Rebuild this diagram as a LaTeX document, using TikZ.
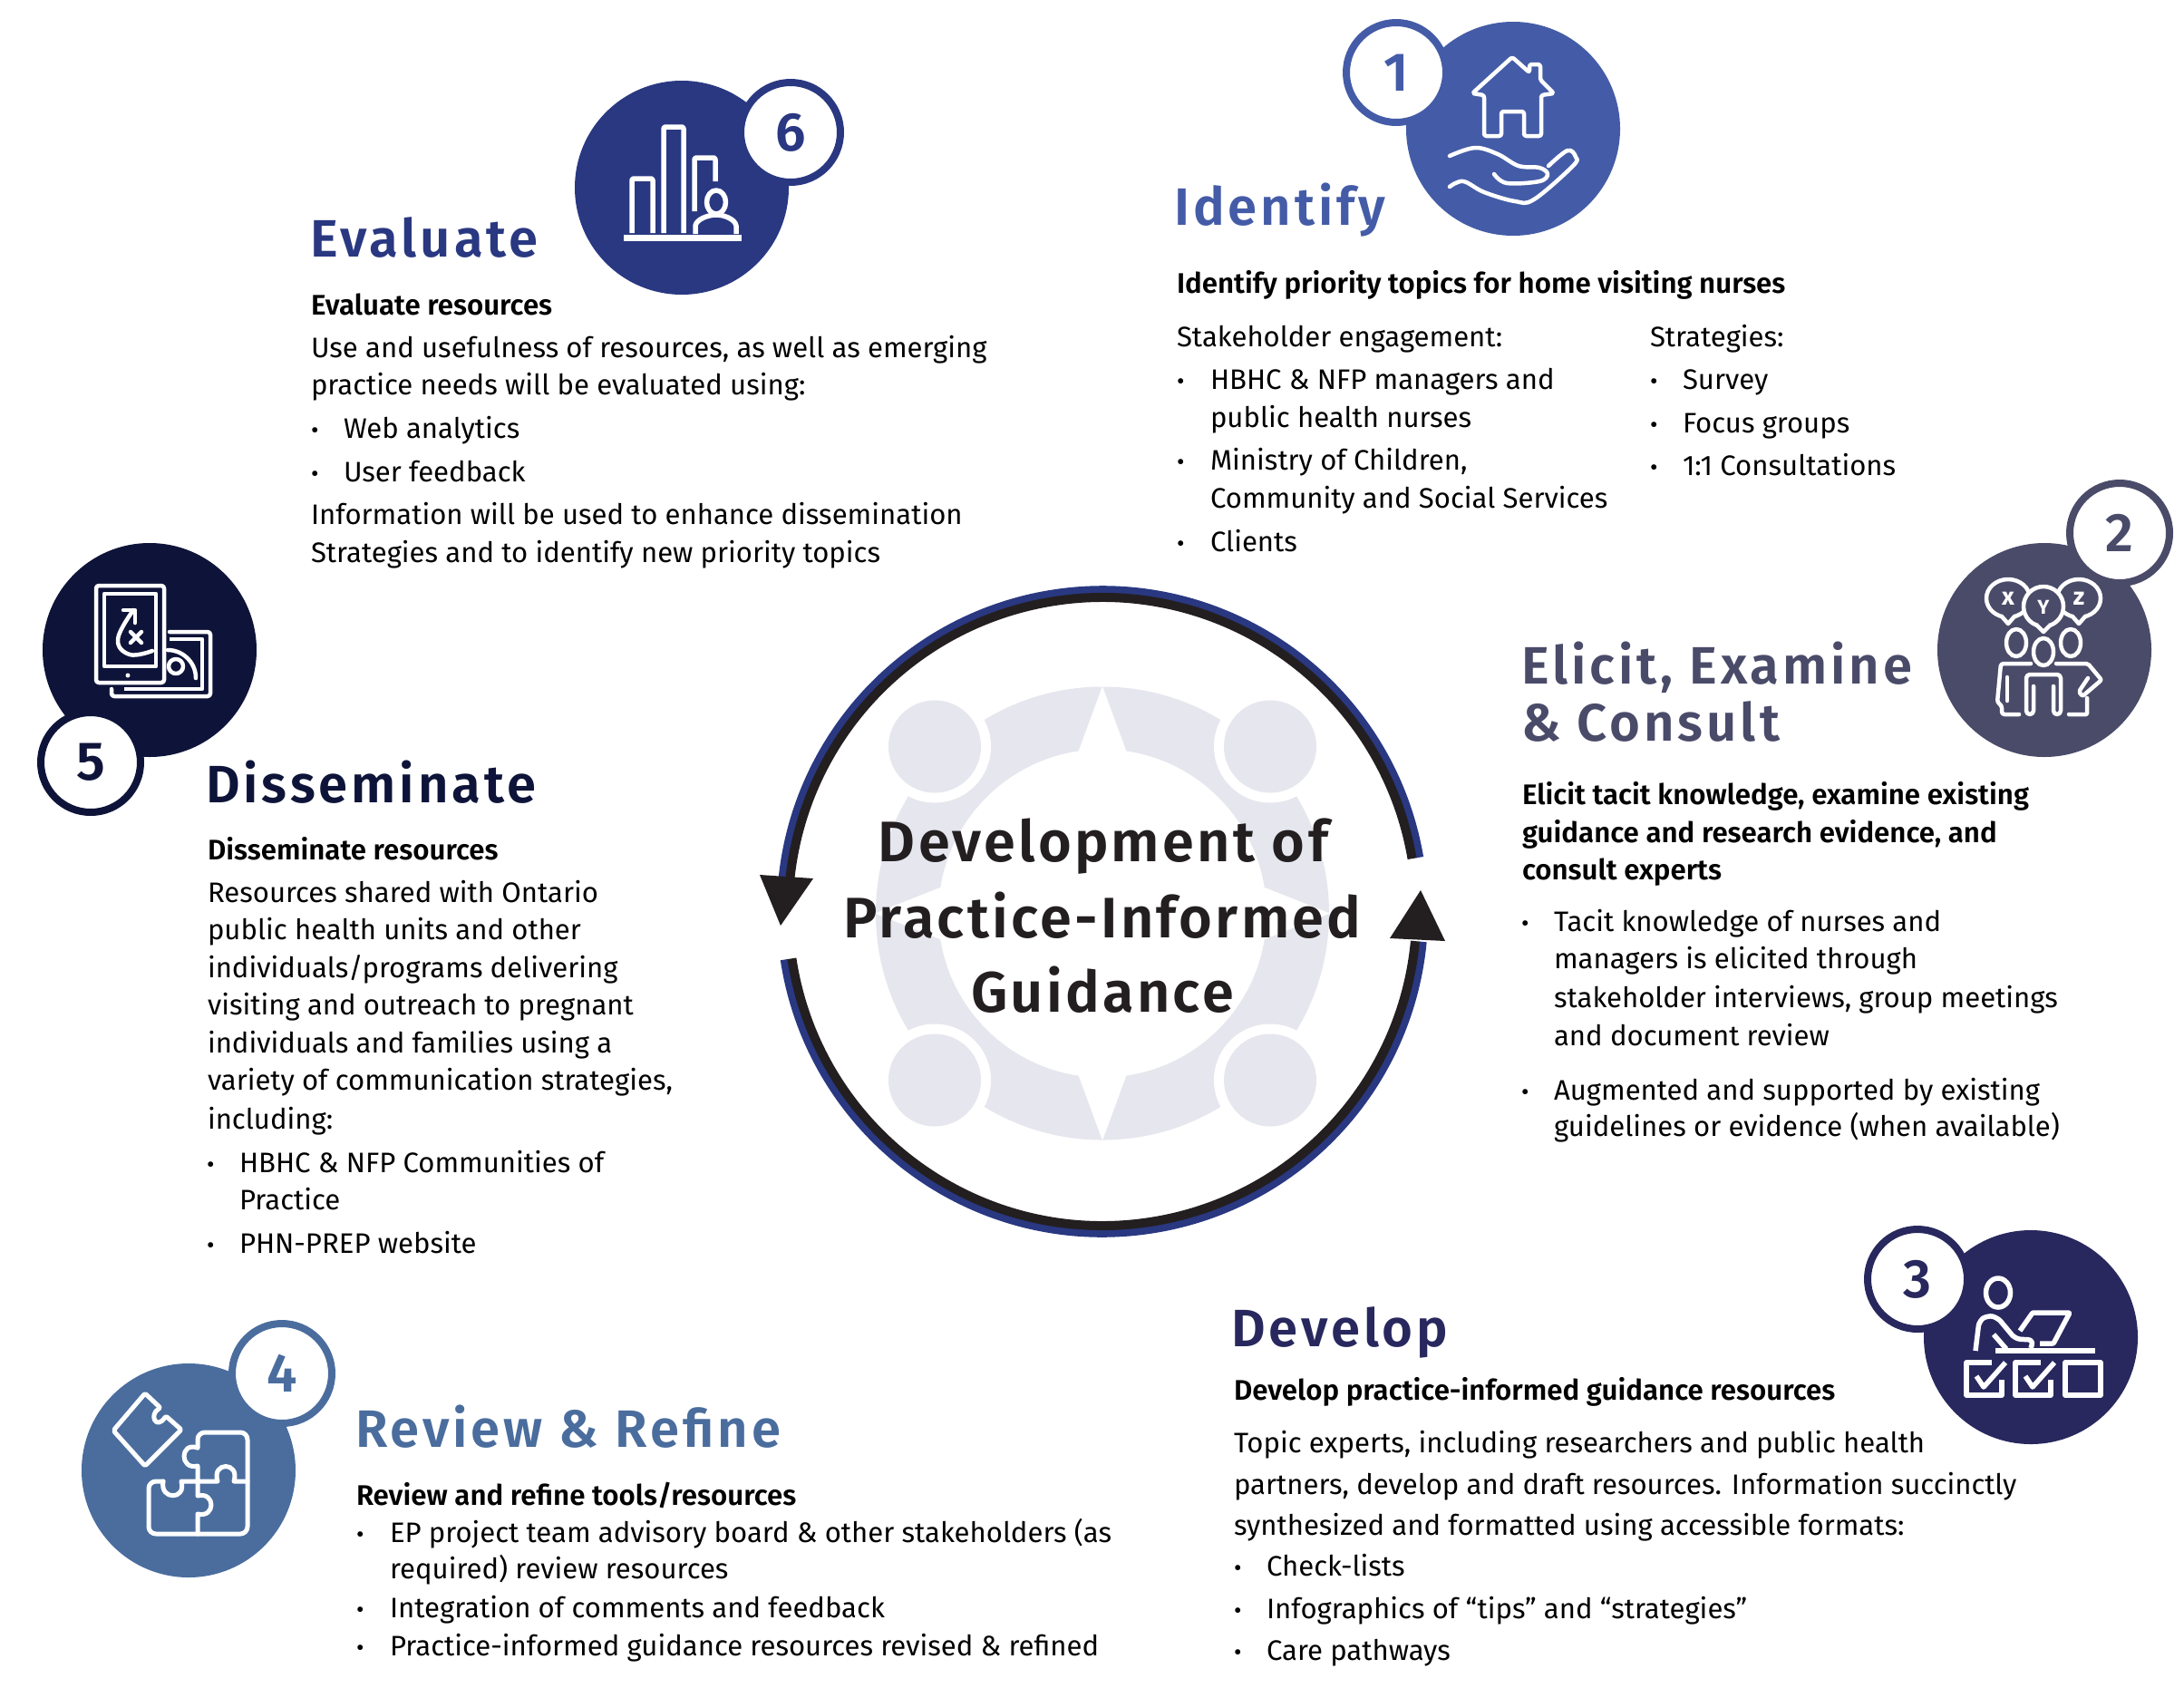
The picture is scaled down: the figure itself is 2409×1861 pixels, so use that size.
\documentclass[tikz,border=0pt]{standalone}
\usepackage{fontspec}
\usetikzlibrary{calc}
\setmainfont{Fira Sans}
\newfontfamily\semi{Fira Sans SemiBold}
\newfontfamily\ttl[LetterSpace=6.8]{Fira Sans SemiBold}
\newfontfamily\ctr[LetterSpace=5.2]{Fira Sans SemiBold}
\definecolor{cA}{HTML}{445CA7}
\definecolor{cB}{HTML}{4A4B69}
\definecolor{cC}{HTML}{28285E}
\definecolor{cD}{HTML}{4A6D9E}
\definecolor{cE}{HTML}{0E1439}
\definecolor{cF}{HTML}{293881}
\definecolor{pale}{HTML}{E6E6EE}
\definecolor{ink}{HTML}{231F20}
\definecolor{ringblue}{HTML}{293881}
\newcounter{tn}
\newcommand\tl[3]{\stepcounter{tn}\node[bodytxt] (t\arabic{tn}) at (#1,-#2) {#3};}
\newcommand\bl[3]{\stepcounter{tn}\node[boldtxt] (t\arabic{tn}) at (#1,-#2) {#3};}
\newcommand\dotb[2]{\stepcounter{tn}\node[bullettxt] (t\arabic{tn}) at (#1,-#2) {•};}
\tikzset{
 bodytxt/.style={anchor=base west,inner sep=0pt,outer sep=0pt,yshift=1pt,text=black,font=\fontsize{31.1}{40}\selectfont},
 boldtxt/.style={anchor=base west,inner sep=0pt,outer sep=0pt,text=black,font=\fontsize{31.25}{40}\selectfont\semi},
 bullettxt/.style={anchor=base west,inner sep=0pt,outer sep=0pt,yshift=1pt,text=black,font=\fontsize{26}{30}\selectfont},
 titletxt/.style={anchor=base west,inner sep=0pt,outer sep=0pt,font=\fontsize{58}{60}\selectfont\ttl},
 centertxt/.style={anchor=base,inner sep=0pt,outer sep=0pt,text=ink,font=\fontsize{63}{70}\selectfont\ctr},
 disc/.style={circle,inner sep=0pt,outer sep=0pt,minimum size=236pt,fill=#1},
 badge/.style={circle,inner sep=0pt,outer sep=0pt,minimum size=110pt,line width=8pt,draw=#1,fill=white,text=#1,font=\fontsize{60}{60}\selectfont\semi},
 icon/.style={draw=white,line width=5.5pt,line join=round,line cap=round},
 iconletter/.style={text=white,inner sep=0pt,font=\fontsize{27}{28}\selectfont\bfseries},
}
\begin{document}
\begin{tikzpicture}[x=1pt,y=1pt]
\useasboundingbox (0,0) rectangle (2409,-1861);
\fill[white] (0,0) rectangle (2409,-1861);

% central logo
\coordinate (ctr) at (1216,-1007.5);
\fill[pale,even odd rule] (ctr) circle (250) (ctr) circle (181);
\foreach \i/\dx/\dy in {a/-185/184,b/185/184,c/-185/-184,d/185/-184}{
  \fill[white] ($(ctr)+(\dx,\dy)$) circle (62);
  \fill[pale] ($(ctr)+(\dx,\dy)$) circle (51);
}
\fill[white] (1216,-757) -- (1188,-833) -- (1244,-833) -- cycle;
\fill[white] (1216,-1258) -- (1188,-1182) -- (1244,-1182) -- cycle;
\fill[white] (965,-1007.5) -- (1037,-979) -- (1037,-1036) -- cycle;
\fill[white] (1467,-1007.5) -- (1395,-979) -- (1395,-1036) -- cycle;

% ring arcs
\coordinate (rc) at (1216,-1005.5);
\draw[ringblue,line width=8.5pt] ([shift={(9.7:355)}]rc) arc[start angle=9.7,end angle=174,radius=355];
\draw[ink,line width=10pt] ([shift={(9.7:346.5)}]rc) arc[start angle=9.7,end angle=174,radius=346.5];
\draw[ringblue,line width=8.5pt] ([shift={(188.6:355)}]rc) arc[start angle=188.6,end angle=354.6,radius=355];
\draw[ink,line width=10pt] ([shift={(188.6:346.5)}]rc) arc[start angle=188.6,end angle=354.6,radius=346.5];
\fill[ink] (838,-965) -- (897,-969) -- (861,-1021) -- cycle;
\fill[ink] (1533,-1035) -- (1594,-1038) -- (1567,-982) -- cycle;

\node[centertxt] (c1) at (1217,-950) {Development of};
\node[centertxt] (c2) at (1216,-1034) {Practice-Informed};
\node[centertxt] (c3) at (1216,-1116) {Guidance};

% discs and badges
\node[disc=cA] (d1) at (1669,-142) {};
\node[badge=cA] (b1) at (1540,-80) {1};
\node[disc=cB] (d2) at (2255,-717) {};
\node[badge=cB] (b2) at (2338,-588) {2};
\node[disc=cC] (d3) at (2240,-1475) {};
\node[badge=cC] (b3) at (2115,-1411) {3};
\node[disc=cD] (d4) at (208,-1622) {};
\node[badge=cD] (b4) at (311,-1515) {4};
\node[disc=cE] (d5) at (165,-717) {};
\node[badge=cE] (b5) at (100,-841) {5};
\node[disc=cF] (d6) at (752,-207) {};
\node[badge=cF] (b6) at (872,-146) {6};

% icon 1 house and hand
\draw[icon,line width=4.5pt,rounded corners=2.5pt] (1668,-63) -- (1624,-103) -- (1637,-105) -- (1637,-150) -- (1656,-150) -- (1656,-123) -- (1681,-123) -- (1681,-150) -- (1700,-150) -- (1700,-105) -- (1714,-103) -- (1699,-88) -- (1699,-71) -- (1687,-71) -- (1687,-80) -- cycle;
\draw[icon,line width=4.5pt] plot[smooth,tension=0.6] coordinates {(1599,-172) (1627,-163) (1652,-170) (1675,-183) (1698,-185) (1707,-192) (1698,-200) (1662,-202) (1648,-192)};
\draw[icon,line width=4.5pt] plot[smooth,tension=0.6] coordinates {(1708,-183) (1729,-166) (1738,-173) (1735,-183) (1692,-220) (1671,-222) (1637,-212) (1614,-200) (1599,-206)};

% icon 6 chart
\fill[white] (688,-259) rectangle (818,-266);
\draw[icon,line cap=butt,rounded corners=2pt] (697,-257) -- (697,-197) -- (720,-197) -- (720,-257);
\draw[icon,line cap=butt,rounded corners=2pt] (732,-257) -- (732,-140) -- (754,-140) -- (754,-257);
\draw[icon,line cap=butt,rounded corners=2pt] (766,-233) -- (766,-174) -- (789,-174) -- (789,-200);
\draw[icon,line cap=butt] (790,-223) ellipse (10.5 and 13);
\draw[icon,line cap=butt] (767,-258) -- (767,-249) .. controls (768,-242) and (781,-237) .. (790,-237) .. controls (799,-237) and (811,-242) .. (812,-249) -- (812,-258);

% icon 2 people
\draw[icon,line width=4.5pt] (2215,-660) ellipse (24 and 21);
\draw[icon,line width=4.5pt] (2293,-660) ellipse (24 and 21);
\fill[cB] (2208,-678) rectangle (2222,-684);
\fill[cB] (2286,-678) rectangle (2300,-684);
\draw[icon,line width=4.5pt] (2208,-680) -- (2215,-688) -- (2222,-680);
\draw[icon,line width=4.5pt] (2286,-680) -- (2293,-688) -- (2300,-680);
\draw[icon,line width=4.5pt,fill=cB] (2254,-669) ellipse (22 and 22);
\fill[cB] (2247,-688) rectangle (2261,-693);
\draw[icon,line width=4.5pt] (2247,-690) -- (2254,-697) -- (2261,-690);
\node[iconletter] (xl) at (2215,-660) {x};
\node[iconletter,font=\fontsize{22}{24}\selectfont\bfseries] (yl) at (2254,-670) {Y};
\node[iconletter] (zl) at (2293,-660) {z};
\draw[icon,line width=4.5pt] (2224,-709) ellipse (11 and 15);
\draw[icon,line width=4.5pt] (2284,-709) ellipse (11 and 15);
\draw[icon,line width=4.5pt] (2254,-719) ellipse (11 and 15);
\draw[icon,line width=4.5pt,rounded corners=3pt] (2240,-732) -- (2207,-732) -- (2203,-775) -- (2208,-778) -- (2208,-788) -- (2227,-788);
\draw[icon,line width=4.5pt] (2214,-747) -- (2214,-773);
\draw[icon,line width=4.5pt,rounded corners=4pt] (2243,-757) -- (2243,-788) -- (2235,-788) -- (2235,-744) -- (2273,-744) -- (2273,-788) -- (2265,-788) -- (2265,-757);
\draw[icon,line width=4.5pt,rounded corners=2pt] (2268,-732) -- (2303,-732) -- (2318,-750) -- (2297,-768) -- (2293,-763) -- (2303,-748);
\draw[icon,line width=4.5pt,rounded corners=1pt] (2302,-770) -- (2302,-788) -- (2282,-788);

% icon 3 desk
\draw[icon,line cap=butt] (2204,-1426) ellipse (13.5 and 16);
\draw[icon,line cap=butt,rounded corners=6pt] (2179,-1490) -- (2183,-1457) -- (2192,-1451) -- (2203,-1453) -- (2223,-1477) -- (2243,-1478) -- (2240,-1487);
\draw[icon,line cap=butt] (2199,-1472) -- (2213,-1488);
\draw[icon,line cap=butt,rounded corners=1pt] (2228,-1468) -- (2242,-1448) -- (2283,-1448) -- (2265,-1482) -- (2250,-1482);
\fill[white] (2201,-1487) rectangle (2311,-1493);
\foreach \s in {0,54}{
  \begin{scope}[xshift=\s pt]
  \draw[icon,line cap=butt] (2208,-1522) -- (2208,-1539) -- (2169,-1539) -- (2169,-1503) -- (2197,-1503);
  \draw[icon,line cap=butt] (2180,-1518) -- (2188,-1530) -- (2212,-1503);
  \end{scope}
}
\draw[icon,line cap=butt] (2278,-1503) rectangle (2317,-1539);

% icon 4 puzzle
\draw[icon,line width=5pt,rounded corners=2pt] (160,-1537) -- (177,-1553) .. controls (164,-1560) and (172,-1578) .. (183,-1562) -- (200,-1577) -- (160,-1617) -- (125,-1578) -- cycle;
\draw[icon,line width=5pt,rounded corners=8pt] (218,-1597) -- (218,-1580) -- (273,-1580) -- (273,-1692) -- (164,-1692) -- (164,-1634) -- (180,-1634);
\draw[icon,line width=5pt] (218,-1597) .. controls (198,-1590) and (198,-1622) .. (218,-1617) -- (218,-1650) .. controls (238,-1645) and (238,-1675) .. (218,-1670) -- (218,-1692);
\draw[icon,line width=5pt] (218,-1634) -- (240,-1634) .. controls (233,-1612) and (265,-1612) .. (258,-1634) -- (273,-1634);
\draw[icon,line width=5pt] (180,-1634) .. controls (176,-1655) and (206,-1655) .. (200,-1634) -- (218,-1634);

% icon 5 tablet
\draw[icon,line width=4.5pt,rounded corners=3pt] (106,-646) rectangle (181,-753);
\draw[icon,line width=4.5pt] (115,-655) rectangle (172,-735);
\fill[white] (141,-745) circle (2.5);
\draw[icon,line width=4.5pt,rounded corners=3pt] (187,-697) -- (232,-697) -- (232,-768) -- (123,-768) -- (123,-760);
\draw[icon,line width=4.5pt,line cap=butt] (187,-705) -- (223,-705) -- (223,-760) -- (137,-760);
\draw[icon,line width=4.5pt] plot[smooth,tension=0.7] coordinates {(168,-718) (143,-722) (130,-705) (147,-673)};
\draw[icon,line width=4.5pt] (136,-673) -- (149,-673) -- (149,-687);
\draw[icon,line width=4.5pt] (144,-697) -- (156,-709) (156,-697) -- (144,-709);
\draw[icon,line width=4.5pt] (185,-717) .. controls (201,-717) and (216,-730) .. (216,-748);
\draw[icon,line width=4.5pt] (194,-735) circle (8);

% Evaluate
\node[titletxt,text=cF] (tF) at (342,-283) {Evaluate};
\bl{343}{347}{Evaluate resources}
\tl{343}{395}{Use and usefulness of resources, as well as emerging}
\tl{343}{436}{practice needs will be evaluated using:}
\dotb{343}{484}\tl{379}{484}{Web analytics}
\dotb{343}{532}\tl{379}{532}{User feedback}
\tl{343}{579}{Information will be used to enhance dissemination}
\tl{343}{621}{Strategies and to identify new priority topics}

% Identify
\node[titletxt,text=cA] (tA) at (1295,-248.5) {Identify};
\bl{1298}{323}{Identify priority topics for home visiting nurses}
\tl{1298}{383}{Stakeholder engagement:}
\dotb{1298}{430}\tl{1335}{430}{HBHC \& NFP managers and}
\tl{1335}{472}{public health nurses}
\dotb{1298}{519}\tl{1335}{519}{Ministry of Children,}
\tl{1335}{561}{Community and Social Services}
\dotb{1298}{609}\tl{1335}{609}{Clients}
\tl{1820}{383}{Strategies:}
\dotb{1820}{430}\tl{1856}{430}{Survey}
\dotb{1820}{478}\tl{1856}{478}{Focus groups}
\dotb{1820}{525}\tl{1856}{525}{1:1 Consultations}

% Elicit
\node[titletxt,text=cB] (tB1) at (1678,-754) {Elicit, Examine};
\node[titletxt,text=cB] (tB2) at (1678,-817) {\& Consult};
\bl{1679}{887.5}{Elicit tacit knowledge, examine existing}
\bl{1679}{929.5}{guidance and research evidence, and}
\bl{1679}{970.5}{consult experts}
\dotb{1678}{1028}\tl{1714}{1028}{Tacit knowledge of nurses and}
\tl{1714}{1069}{managers is elicited through}
\tl{1714}{1112}{stakeholder interviews, group meetings}
\tl{1714}{1154}{and document review}
\dotb{1678}{1214}\tl{1714}{1214}{Augmented and supported by existing}
\tl{1714}{1254.5}{guidelines or evidence (when available)}

% Develop
\node[titletxt,text=cC] (tC) at (1358,-1485.5) {Develop};
\bl{1361}{1544}{Develop practice-informed guidance resources}
\tl{1361}{1603}{Topic experts, including researchers and public health}
\tl{1361}{1649}{partners, develop and draft resources. Information succinctly}
\tl{1361}{1694}{synthesized and formatted using accessible formats:}
\dotb{1361}{1739}\tl{1397}{1739}{Check-lists}
\dotb{1361}{1786}\tl{1397}{1786}{Infographics of “tips” and “strategies”}
\dotb{1361}{1832}\tl{1397}{1832}{Care pathways}

% Review
\node[titletxt,text=cD] (tD) at (392,-1596.5) {Review \& Refine};
\bl{393}{1660.5}{Review and refine tools/resources}
\dotb{393}{1702}\tl{430}{1702}{EP project team advisory board \& other stakeholders (as}
\tl{430}{1742}{required) review resources}
\dotb{393}{1785}\tl{430}{1785}{Integration of comments and feedback}
\dotb{393}{1827}\tl{430}{1827}{Practice-informed guidance resources revised \& refined}

% Disseminate
\node[titletxt,text=cE] (tE) at (227,-885) {Disseminate};
\bl{229}{948}{Disseminate resources}
\tl{229}{996}{Resources shared with Ontario}
\tl{229}{1037}{public health units and other}
\tl{229}{1079}{individuals/programs delivering}
\tl{229}{1120}{visiting and outreach to pregnant}
\tl{229}{1162}{individuals and families using a}
\tl{229}{1203.5}{variety of communication strategies,}
\tl{229}{1246}{including:}
\dotb{228}{1294}\tl{264}{1294}{HBHC \& NFP Communities of}
\tl{264}{1335}{Practice}
\dotb{228}{1383}\tl{264}{1383}{PHN-PREP website}
\end{tikzpicture}
\end{document}
